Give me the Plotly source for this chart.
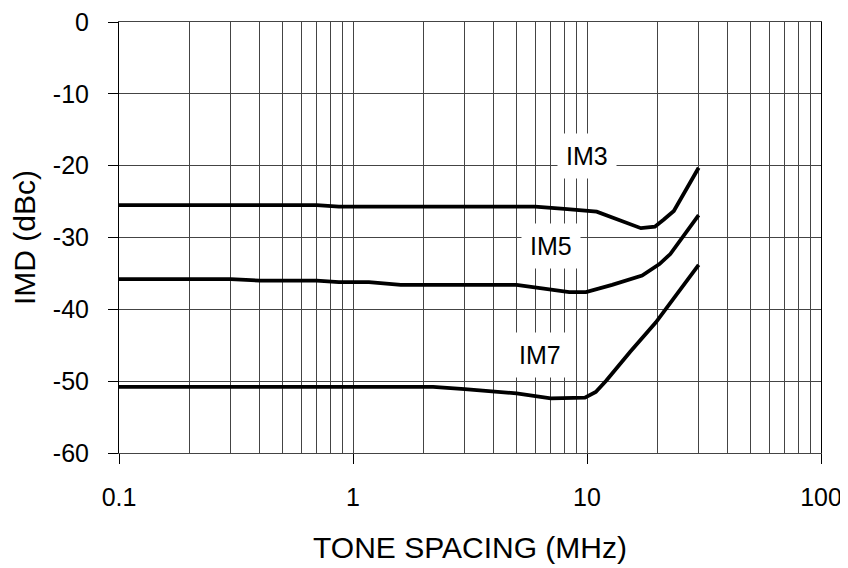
import math
import plotly.graph_objects as go

# Tone spacing (MHz) and IMD (dBc)
im3_mhz = [0.1, 0.7, 0.87, 3.5, 6, 8, 10.5, 11, 17, 19.5, 21.3, 23.5, 30]
im3_dbc = [-25.5, -25.5, -25.7, -25.7, -25.7, -26.0, -26.3, -26.4, -28.7, -28.5, -27.5, -26.3, -20.3]

im5_mhz = [0.1, 0.3, 0.4, 0.7, 0.87, 1.17, 1.6, 5, 8.4, 9.9, 12.8, 17.2, 20.4, 22.7, 30]
im5_dbc = [-35.8, -35.8, -36.0, -36.0, -36.2, -36.2, -36.6, -36.6, -37.6, -37.6, -36.6, -35.3, -33.7, -32.3, -26.9]

im7_mhz = [0.1, 2.2, 3, 4, 5, 7, 8.9, 9.8, 10.9, 12.1, 15.3, 19.7, 30]
im7_dbc = [-50.8, -50.8, -51.1, -51.4, -51.7, -52.4, -52.4, -52.3, -51.5, -49.9, -45.9, -41.8, -33.8]

labels = ['IM3', 'IM5', 'IM7']
label_mhz = [10.0, 7.0, 6.3]
label_dbc = [-18.7, -31.2, -46.3]

x_ticks = [0.1, 1, 10, 100]
x_ticktext = ['0.1', '1', '10', '100']
y_ticks = [0, -10, -20, -30, -40, -50, -60]
y_ticktext = ['0', '-10', '-20', '-30', '-40', '-50', '-60']

font = 'Liberation Sans, Arial, sans-serif'
fsize = 25
grid = '#444444'

fig = go.Figure()
for xs, ys, name in [(im3_mhz, im3_dbc, 'IM3'), (im5_mhz, im5_dbc, 'IM5'), (im7_mhz, im7_dbc, 'IM7')]:
    fig.add_trace(go.Scatter(x=xs, y=ys, mode='lines', name=name,
                             line=dict(color='black', width=3.8)))

# log axis: annotation positions go in log10 units
for txt, x, y in zip(labels, label_mhz, label_dbc):
    fig.add_annotation(x=math.log10(x), y=y, xref='x', yref='y', text=txt, showarrow=False,
                       bgcolor='white', borderpad=8,
                       font=dict(family=font, size=fsize, color='black'))

# page body has an 8px margin, so margins are shifted to compensate
fig.update_layout(
    width=848, height=568,
    margin=dict(l=111, r=35, t=14, b=123),
    paper_bgcolor='white', plot_bgcolor='white',
    showlegend=False,
    font=dict(family=font, size=fsize, color='black'),
)
fig.update_xaxes(
    type='log', range=[-1, 2], automargin=False,
    tickvals=x_ticks, ticktext=x_ticktext, ticklabelstandoff=12,
    ticklabeloverflow='allow',
    ticks='outside', ticklen=10, tickcolor='black',
    showgrid=True, gridcolor=grid, gridwidth=1,
    minor=dict(tickvals=[a * b for b in [0.1, 1, 10] for a in range(2, 10)],
               showgrid=True, gridcolor=grid, gridwidth=1, ticks=''),
    showline=True, linecolor=grid, linewidth=1, mirror=True,
    title=dict(text='TONE SPACING (MHz)', standoff=26),
    zeroline=False,
)
fig.update_yaxes(
    range=[-60, 0], automargin=False,
    tickvals=y_ticks, ticktext=y_ticktext, ticklabelstandoff=14,
    ticklabeloverflow='allow',
    ticks='outside', ticklen=10, tickcolor='black',
    showgrid=True, gridcolor=grid, gridwidth=1,
    showline=True, linecolor='black', linewidth=1, mirror=True,
    title=dict(text='IMD (dBc)', standoff=14),
    zeroline=False,
)

fig.write_html('out.html')
